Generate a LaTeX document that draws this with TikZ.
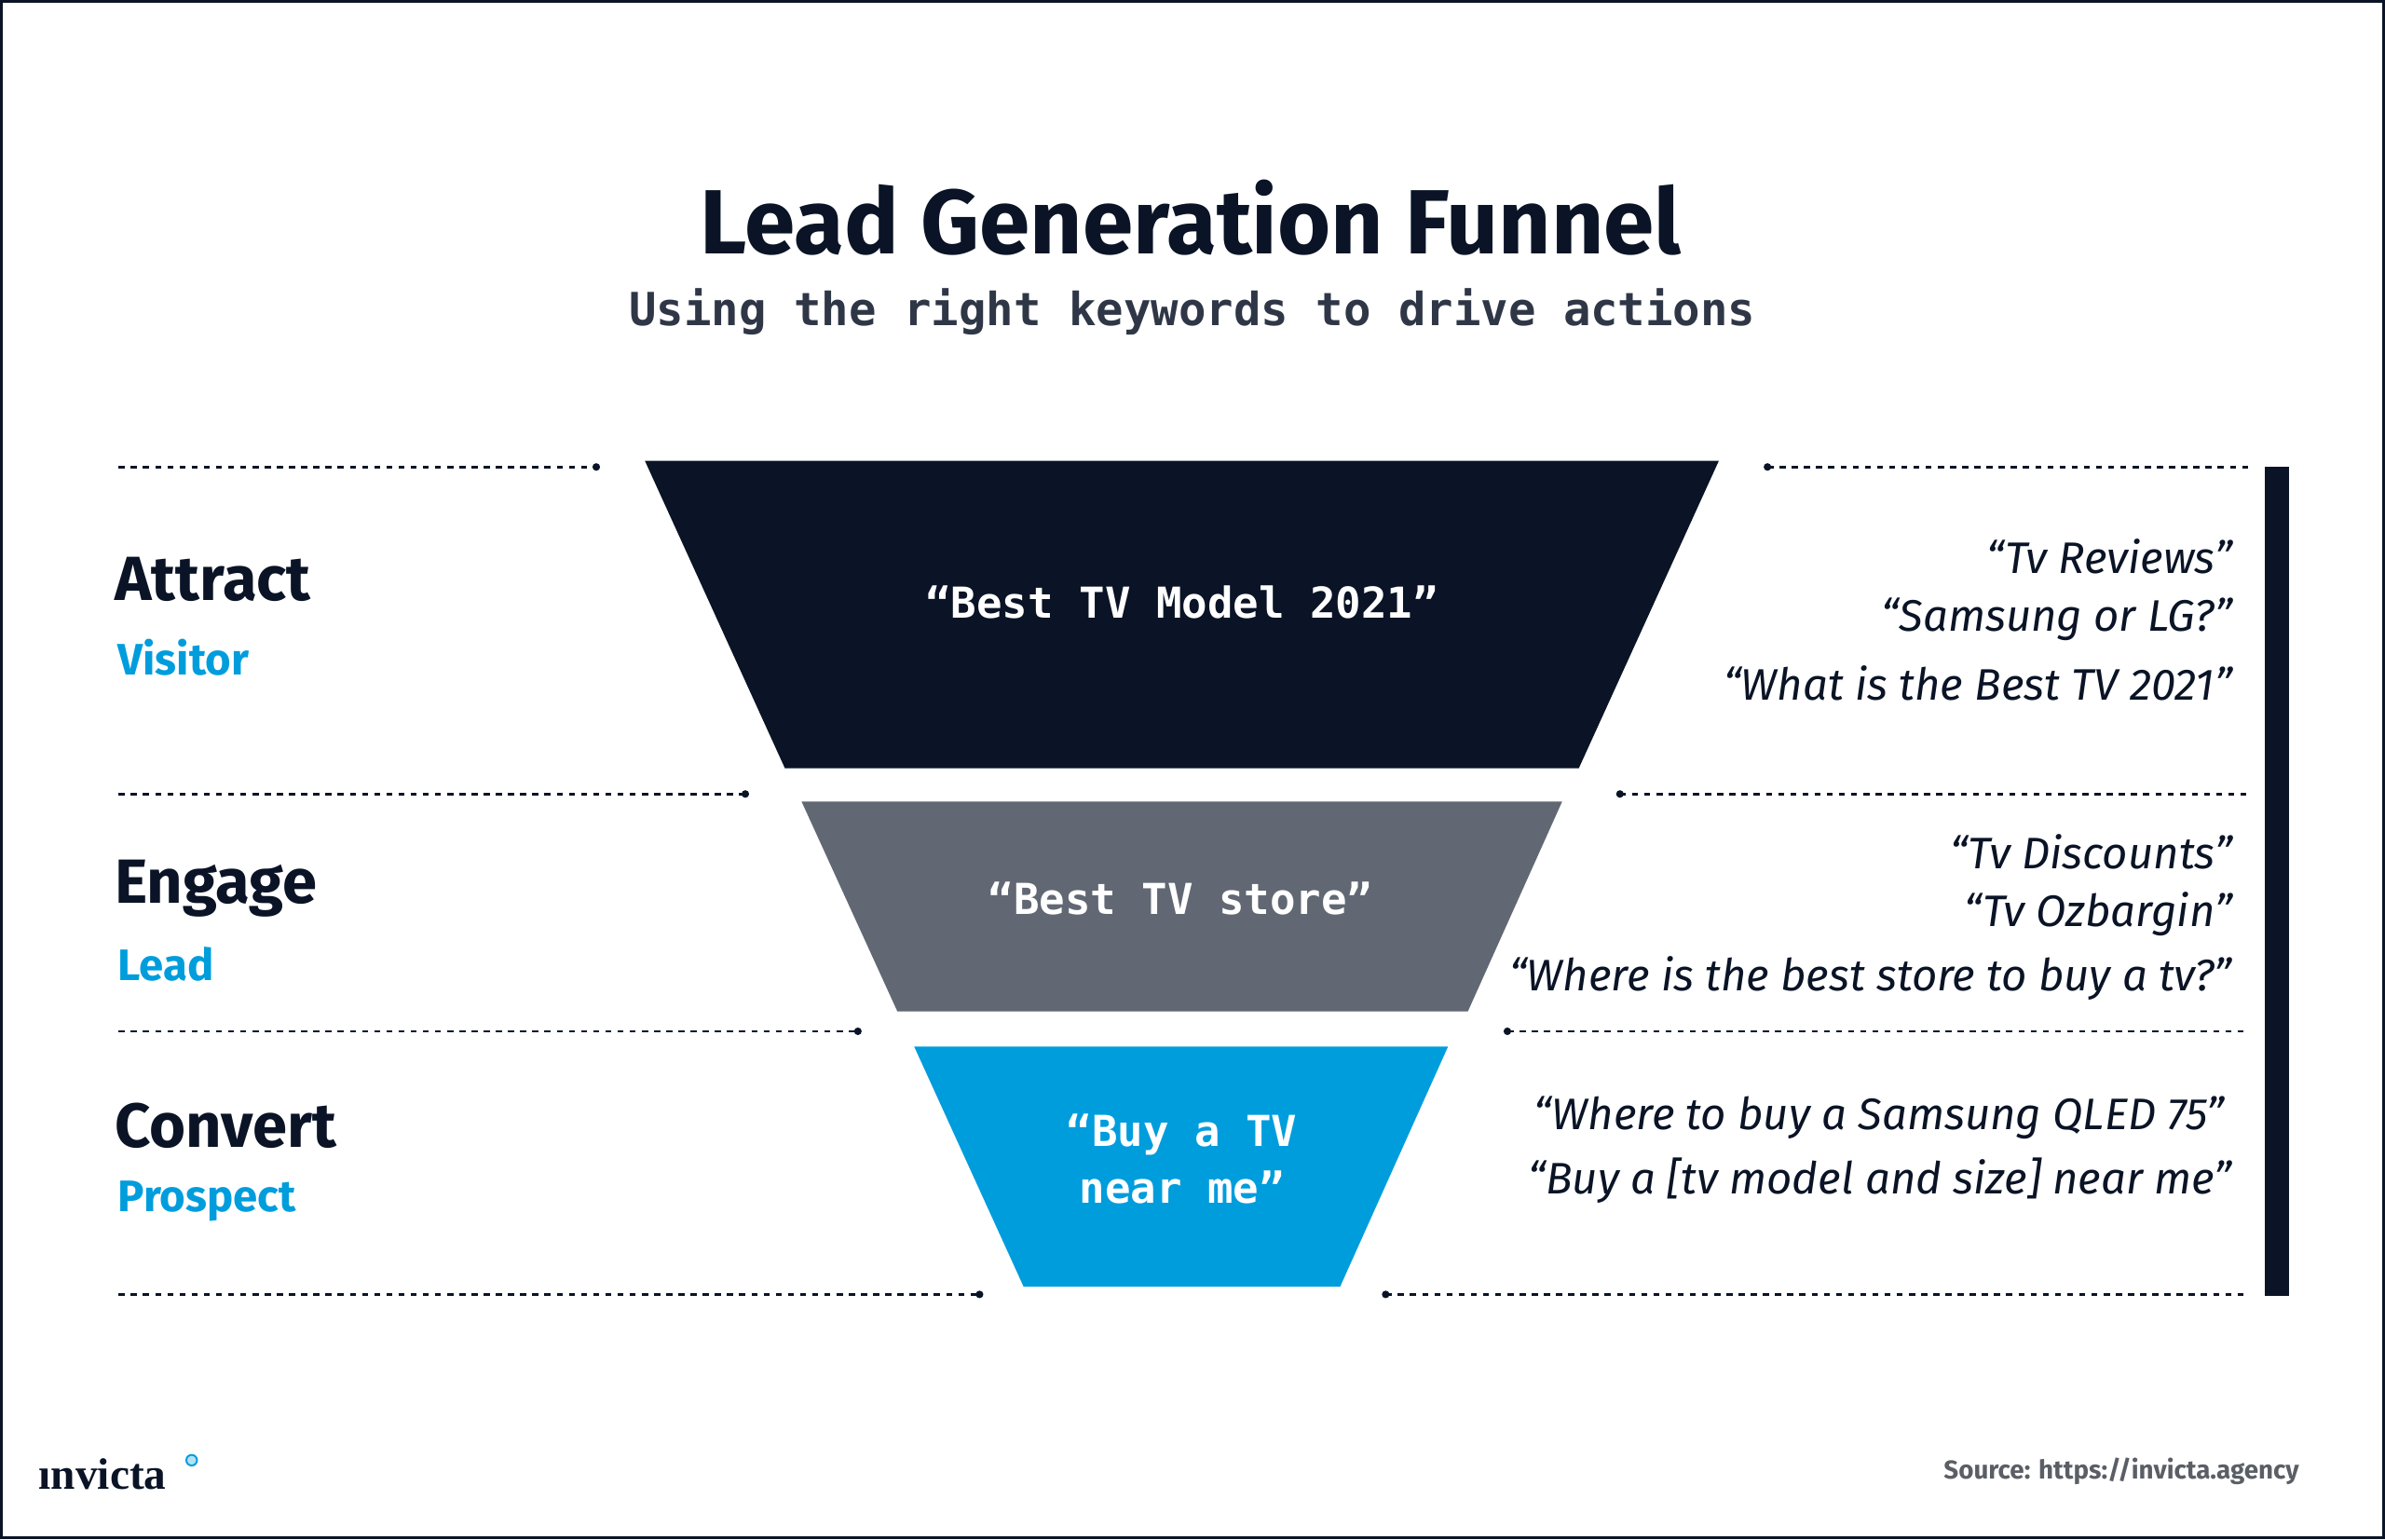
\documentclass[tikz,border=0pt]{standalone}
\usepackage{fontspec}
\setmainfont{Fira Sans}
\newfontfamily\monof{DejaVu Sans Mono}
\newfontfamily\logof{Liberation Serif}
\definecolor{navy}{HTML}{0A1426}
\definecolor{slate}{HTML}{626873}
\definecolor{sky}{HTML}{009DDD}
\definecolor{srcgray}{HTML}{5A5F66}
\begin{document}
\begin{tikzpicture}[x=1pt,y=-1pt,
  dashline/.style={navy,line width=1.6pt,dash pattern=on 4pt off 4pt},
  dotend/.style={circle,fill=navy,inner sep=0pt,minimum size=5pt},
  stage/.style={anchor=west,text=navy,font=\fontsize{41}{44}\selectfont\bfseries},
  role/.style={anchor=west,text=sky,font=\fontsize{29}{32}\selectfont\bfseries},
  query/.style={anchor=east,text=navy,font=\fontsize{29}{32}\selectfont\itshape\mdseries},
  ftext/.style={text=white,align=center,font=\monof\fontsize{28}{37}\selectfont\bfseries}]
\useasboundingbox (0,0) rectangle (1568,1012);
\fill[white] (0,0) rectangle (1568,1012);
\draw[navy,line width=2pt] (1,1) rectangle (1567,1011);
\node[text=navy,font=\fontsize{60}{62}\selectfont\bfseries] (title) at (783,143) {Lead Generation Funnel};
\node[text=navy!85,font=\monof\fontsize{30}{34}\selectfont\bfseries] (sub) at (784,205) {Using the right keywords to drive actions};
% funnel
\fill[navy] (424,303) -- (1130,303) -- (1038,505) -- (516,505) -- cycle;
\fill[slate] (527,527) -- (1027,527) -- (965,665) -- (590,665) -- cycle;
\fill[sky] (601,688) -- (952,688) -- (881,846) -- (673,846) -- cycle;
\node[ftext] (f1) at (777,396) {“Best TV Model 2021”};
\node[ftext] (f2) at (776,591) {“Best TV store”};
\node[ftext] (f3) at (777,762) {“Buy a TV\\near me”};
% dashed lines
\foreach \y/\l/\r in {307/392/1162,522/490/1065,678/564/991,851/644/911}{
  \draw[dashline] (78,\y) -- (\l,\y); \node[dotend] at (\l,\y) {};
  \node[dotend] at (\r,\y) {}; \draw[dashline] (\r,\y) -- (1478,\y);
}
\fill[navy] (1489,307) rectangle (1505,852);
% left labels
\node[stage] (a) at (72,381) {Attract};
\node[role] (av) at (74,432) {Visitor};
\node[stage] (e) at (72,584) {Engage};
\node[role] (el) at (74,634) {Lead};
\node[stage] (c) at (72,740) {Convert};
\node[role] (cp) at (74,790) {Prospect};
% right queries
\node[query] (q1) at (1471,366) {“Tv Reviews”};
\node[query] (q2) at (1471,407) {“Samsung or LG?”};
\node[query] (q3) at (1471,449) {“What is the Best TV 2021”};
\node[query] (q4) at (1471,560) {“Tv Discounts”};
\node[query] (q5) at (1471,601) {“Tv Ozbargin”};
\node[query] (q6) at (1471,643) {“Where is the best store to buy a tv?”};
\node[query] (q7) at (1466,735) {“Where to buy a Samsung QLED 75”};
\node[query] (q8) at (1471,776) {“Buy a [tv model and size] near me”};
% footer
\node[anchor=west,text=navy,font=\logof\fontsize{29}{30}\selectfont\bfseries] (logo) at (22,969) {ınvicta};
\node[circle,draw=sky,fill=sky!30,line width=1.2pt,inner sep=0pt,minimum size=7pt] (reg) at (126,960) {};
\node[anchor=east,text=srcgray,font=\fontsize{17}{18}\selectfont\bfseries] (src) at (1515,967) {Source: https://invicta.agency};
\end{tikzpicture}
\end{document}
